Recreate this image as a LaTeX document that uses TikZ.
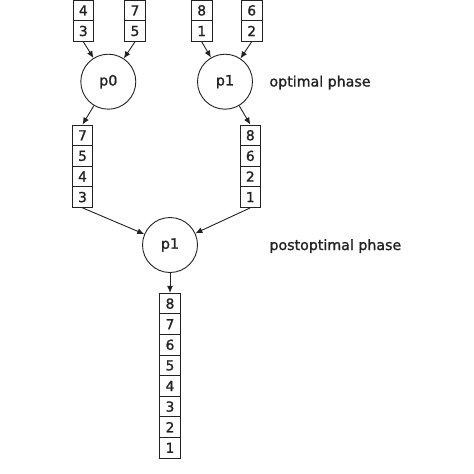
\documentclass[tikz,border=0pt]{standalone}
\usepackage{fontspec}
\setmainfont{DejaVu Sans}[FakeBold=1.2]
\newfontfamily\heavy{DejaVu Sans}[FakeBold=1.2]
\usetikzlibrary{arrows.meta}
\definecolor{ink}{HTML}{222222}
\tikzset{
  cell/.style={draw=ink, line width=0.9pt, minimum width=20.6pt, minimum height=20.6pt, inner sep=0pt, text=ink, font=\heavy\fontsize{13.8}{13.8}\selectfont},
  proc/.style={draw=ink, line width=0.9pt, circle, minimum size=55pt, inner sep=0pt, text=ink, font=\heavy\fontsize{14.3}{14.3}\selectfont},
  conn/.style={draw=ink, line width=0.9pt, -{Latex[length=7pt,width=6pt]}},
  phase/.style={text=ink, font=\heavy\fontsize{14.2}{14.2}\selectfont, inner sep=0pt}
}
\begin{document}
\begin{tikzpicture}[x=1pt,y=-1pt]
\useasboundingbox (0,0) rectangle (474,474);
\fill[white] (0,0) rectangle (474,474);
\begin{scope}
\clip (0,0.9) rectangle (474,474);
% top stacks
\node[cell] (a4) at (83.3,10.4) {4};
\node[cell] (a3) at (83.3,31) {3};
\node[cell] (b7) at (135,10.4) {7};
\node[cell] (b5) at (135,31) {5};
\node[cell] (c8) at (201.7,10.4) {8};
\node[cell] (c1) at (201.7,31) {1};
\node[cell] (d6) at (251.7,10.4) {6};
\node[cell] (d2) at (251.7,31) {2};
\end{scope}
% processors
\node[proc] (p0) at (108.3,81.7) {p0};
\node[proc] (p1) at (225,81.7) {p1};
\node[proc] (pb) at (170,245) {p1};
% middle stacks
\node[cell] (m7) at (82.5,135.3) {7};
\node[cell] (m5) at (82.5,155.9) {5};
\node[cell] (m4) at (82.5,176.5) {4};
\node[cell] (m3) at (82.5,197.1) {3};
\node[cell] (n8) at (250.3,135.3) {8};
\node[cell] (n6) at (250.3,155.9) {6};
\node[cell] (n2) at (250.3,176.5) {2};
\node[cell] (n1) at (250.3,197.1) {1};
% bottom stack
\node[cell] (z8) at (170,303.6) {8};
\node[cell] (z7) at (170,324.2) {7};
\node[cell] (z6) at (170,344.8) {6};
\node[cell] (z5) at (170,365.4) {5};
\node[cell] (z4) at (170,386.0) {4};
\node[cell] (z3) at (170,406.6) {3};
\node[cell] (z2) at (170,427.2) {2};
\node[cell] (z1) at (170,447.8) {1};
% labels
\node[phase, anchor=base west] (lopt) at (269.3,86.5) {optimal phase};
\node[phase, anchor=base west] (lpost) at (269.3,250) {postoptimal phase};
% connectors
\draw[conn] (a3.south) -- (p0);
\draw[conn] (b5.south) -- (p0);
\draw[conn] (c1.south) -- (p1);
\draw[conn] (d2.south) -- (p1);
\draw[conn] (p0) -- (m7.north);
\draw[conn] (p1) -- (n8.north);
\draw[conn] (m3.south) -- (pb);
\draw[conn] (n1.south) -- (pb);
\draw[conn] (pb) -- (z8.north);
\end{tikzpicture}
\end{document}
